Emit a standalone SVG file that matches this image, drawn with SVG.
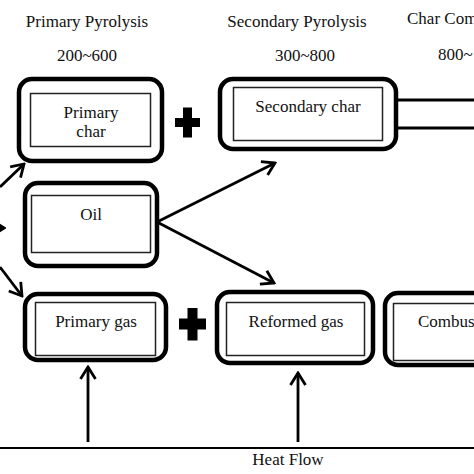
<svg xmlns="http://www.w3.org/2000/svg" width="474" height="474" viewBox="0 0 474 474">
<defs>
<style>
.t{font-family:"Liberation Serif","Times New Roman",serif;font-size:17px;fill:#111;text-anchor:middle}
.ts{font-family:"Liberation Serif","Times New Roman",serif;font-size:17px;fill:#111}
.outer{fill:#fff;stroke:#000;stroke-width:4.5}
.inner{fill:#fff;stroke:#222;stroke-width:1.5}
.ln{fill:none;stroke:#000;stroke-width:2.8}
.plus{fill:#000}
</style>
<marker id="ah" markerUnits="userSpaceOnUse" viewBox="-14 -9 16 18" markerWidth="16" markerHeight="18" refX="0" refY="0" orient="auto">
<path d="M-12 -7.5 L0 0 L-12 7.5" fill="none" stroke="#000" stroke-width="2.8" stroke-linejoin="miter"/>
</marker>
</defs>
<rect width="474" height="474" fill="#fff"/>

<g id="titles">
<text class="t" x="87" y="27">Primary Pyrolysis</text>
<text class="t" x="87" y="61">200~600</text>
<text class="t" x="297" y="27">Secondary Pyrolysis</text>
<text class="t" x="305" y="61">300~800</text>
<text class="ts" x="407" y="24">Char Com</text>
<text class="ts" x="438" y="60">800~</text>
</g>

<g id="connectors">
<line class="ln" x1="396" y1="100" x2="474" y2="100"/>
<line class="ln" x1="396" y1="128" x2="474" y2="128"/>
<line class="ln" x1="157" y1="222" x2="275" y2="163" marker-end="url(#ah)"/>
<line class="ln" x1="157" y1="222" x2="274" y2="283" marker-end="url(#ah)"/>
<line class="ln" x1="0" y1="187" x2="24" y2="164" marker-end="url(#ah)"/>
<line class="ln" x1="0" y1="267" x2="22" y2="296" marker-end="url(#ah)"/>
<line class="ln" x1="-20" y1="228" x2="4" y2="228" marker-end="url(#ah)"/>
<line x1="0" y1="448" x2="474" y2="448" stroke="#000" stroke-width="2.2"/>
<line class="ln" x1="88" y1="442" x2="88" y2="367" marker-end="url(#ah)"/>
<line class="ln" x1="298" y1="442" x2="298" y2="373" marker-end="url(#ah)"/>
</g>

<g id="primary-char">
<rect class="outer" x="19" y="79" width="143" height="82" rx="13"/>
<rect class="inner" x="30.5" y="93.5" width="120" height="53"/>
<text class="t" x="91" y="118">Primary</text>
<text class="t" x="91" y="137">char</text>
</g>

<g id="plus1">
<path class="plus" d="M183 107.5 h9 v10.5 h8 v9 h-8 v10.5 h-9 v-10.5 h-8 v-9 h8 z"/>
</g>

<g id="secondary-char">
<rect class="outer" x="220" y="79" width="176" height="70" rx="13"/>
<rect class="inner" x="233.5" y="87.5" width="149" height="53"/>
<text class="t" x="308" y="112">Secondary char</text>
</g>

<g id="oil">
<rect class="outer" x="25" y="183" width="132" height="83" rx="13"/>
<rect class="inner" x="31.5" y="195.5" width="119" height="57"/>
<text class="t" x="91" y="220">Oil</text>
</g>

<g id="primary-gas">
<rect class="outer" x="25" y="294" width="141" height="66" rx="13"/>
<rect class="inner" x="35.5" y="302.5" width="120" height="53"/>
<text class="t" x="96" y="327">Primary gas</text>
</g>

<g id="plus2">
<path class="plus" d="M187.5 308 h10 v10.5 h8.5 v11 h-8.5 v11 h-10 v-11 h-8.5 v-11 h8.5 z"/>
</g>

<g id="reformed-gas">
<rect class="outer" x="217" y="292" width="156" height="71" rx="13"/>
<rect class="inner" x="226.5" y="302.5" width="138" height="53"/>
<text class="t" x="296" y="327">Reformed gas</text>
</g>

<g id="combustion">
<rect class="outer" x="385" y="293" width="120" height="72" rx="13"/>
<rect class="inner" x="393.5" y="303.5" width="100" height="57"/>
<text class="ts" x="418" y="327">Combus</text>
</g>

<g id="heat-flow">
<text class="t" x="288" y="465">Heat Flow</text>
</g>
</svg>
